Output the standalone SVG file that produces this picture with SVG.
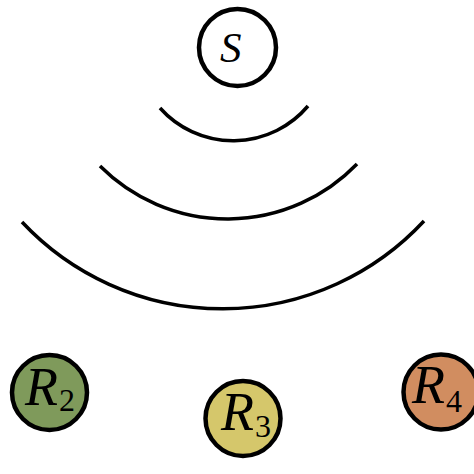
<svg xmlns="http://www.w3.org/2000/svg" width="474" height="474" viewBox="0 0 474 474">
<style>
.node{stroke:#000;stroke-width:4.5}
.lbl{font-family:"Liberation Serif","DejaVu Serif",serif;font-style:italic;fill:#000}
.sub{font-family:"Liberation Serif","DejaVu Serif",serif;font-style:normal;fill:#000}
.wave{fill:none;stroke:#000;stroke-width:3.5}
</style>
<rect width="474" height="474" fill="#fff"/>
<g id="S">
<circle class="node" cx="237.5" cy="47.5" r="38.5" fill="#fff"/>
<text class="lbl" x="220" y="62" font-size="43">S</text>
</g>
<g id="connectors">
<path class="wave" d="M160,108 A98,98 0 0 0 308,106"/>
<path class="wave" d="M100,166 A180,180 0 0 0 357,164"/>
<path class="wave" d="M22,222 A275,275 0 0 0 424,221"/>
</g>
<g id="R2">
<circle class="node" cx="49.5" cy="392.5" r="37.5" fill="#7f9a5b"/>
<text class="lbl" x="25" y="405" font-size="54">R</text>
<text class="sub" x="59" y="411" font-size="32">2</text>
</g>
<g id="R3">
<circle class="node" cx="243" cy="418.5" r="37.5" fill="#d5c76b"/>
<text class="lbl" x="221" y="430" font-size="54">R</text>
<text class="sub" x="255" y="437" font-size="32">3</text>
</g>
<g id="R4">
<circle class="node" cx="441" cy="392" r="37.5" fill="#d18d60"/>
<text class="lbl" x="412" y="403" font-size="54">R</text>
<text class="sub" x="446" y="412" font-size="32">4</text>
</g>
</svg>
